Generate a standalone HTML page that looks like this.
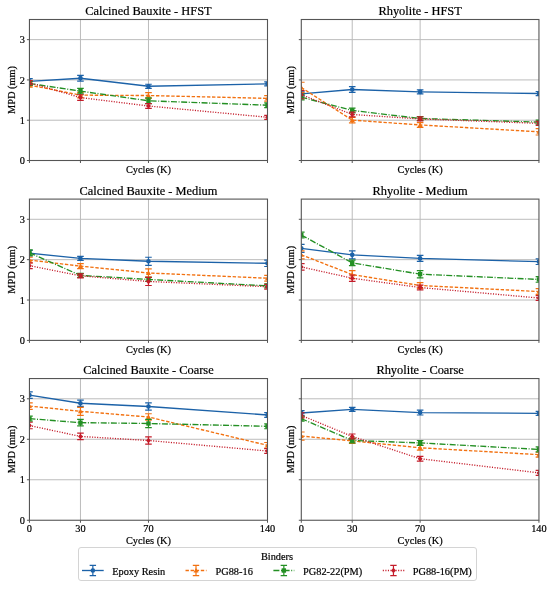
<!DOCTYPE html>
<html><head><meta charset="utf-8"><style>html,body{margin:0;padding:0;background:#fff;width:550px;height:589px;overflow:hidden} .t{font-family:"Liberation Serif",serif;fill:#000;stroke:#000;stroke-width:0.2px}</style></head>
<body>
<svg width="550" height="589" viewBox="0 0 550 589" style="display:block;will-change:transform">
<rect width="550" height="589" fill="#fff"/>
<defs><clipPath id="c0"><rect x="29.45" y="15.5" width="238.05" height="149.0"/></clipPath></defs>
<line x1="29.45" x2="267.5" y1="120.21" y2="120.21" stroke="#bcbcbc" stroke-width="1"/>
<line x1="29.45" x2="267.5" y1="79.93" y2="79.93" stroke="#bcbcbc" stroke-width="1"/>
<line x1="29.45" x2="267.5" y1="39.64" y2="39.64" stroke="#bcbcbc" stroke-width="1"/>
<line x1="80.46" x2="80.46" y1="19.5" y2="160.5" stroke="#bcbcbc" stroke-width="1"/>
<line x1="148.47" x2="148.47" y1="19.5" y2="160.5" stroke="#bcbcbc" stroke-width="1"/>
<g clip-path="url(#c0)">
<polyline points="29.45,81.44 80.46,78.22 148.47,86.27 267.50,83.86" fill="none" stroke="#1c62a8" stroke-width="1.35"/>
<path d="M29.45,78.62V84.26M26.15,78.62h6.6M26.15,84.26h6.6" stroke="#1c62a8" stroke-width="1.2" fill="none"/>
<circle cx="29.45" cy="81.44" r="2.35" fill="#1c62a8"/>
<path d="M80.46,75.40V81.04M77.16,75.40h6.6M77.16,81.04h6.6" stroke="#1c62a8" stroke-width="1.2" fill="none"/>
<circle cx="80.46" cy="78.22" r="2.35" fill="#1c62a8"/>
<path d="M148.47,84.26V88.29M145.17,84.26h6.6M145.17,88.29h6.6" stroke="#1c62a8" stroke-width="1.2" fill="none"/>
<circle cx="148.47" cy="86.27" r="2.35" fill="#1c62a8"/>
<path d="M267.50,81.84V85.87M264.20,81.84h6.6M264.20,85.87h6.6" stroke="#1c62a8" stroke-width="1.2" fill="none"/>
<circle cx="267.50" cy="83.86" r="2.35" fill="#1c62a8"/>
<polyline points="29.45,85.07 80.46,95.14 148.47,95.54 267.50,98.36" fill="none" stroke="#f27110" stroke-width="1.35" stroke-dasharray="3.4,1.7"/>
<path d="M29.45,83.05V87.08M26.15,83.05h6.6M26.15,87.08h6.6" stroke="#f27110" stroke-width="1.2" fill="none"/>
<polygon points="29.45,82.47 31.95,87.07 26.95,87.07" fill="#f27110"/>
<path d="M80.46,92.32V97.96M77.16,92.32h6.6M77.16,97.96h6.6" stroke="#f27110" stroke-width="1.2" fill="none"/>
<polygon points="80.46,92.54 82.96,97.14 77.96,97.14" fill="#f27110"/>
<path d="M148.47,92.72V98.36M145.17,92.72h6.6M145.17,98.36h6.6" stroke="#f27110" stroke-width="1.2" fill="none"/>
<polygon points="148.47,92.94 150.97,97.54 145.97,97.54" fill="#f27110"/>
<path d="M267.50,95.54V101.18M264.20,95.54h6.6M264.20,101.18h6.6" stroke="#f27110" stroke-width="1.2" fill="none"/>
<polygon points="267.50,95.76 270.00,100.36 265.00,100.36" fill="#f27110"/>
<polyline points="29.45,83.45 80.46,91.11 148.47,100.78 267.50,105.21" fill="none" stroke="#238f23" stroke-width="1.35" stroke-dasharray="6,1.6,1,1.6"/>
<path d="M29.45,81.44V85.47M26.15,81.44h6.6M26.15,85.47h6.6" stroke="#238f23" stroke-width="1.2" fill="none"/>
<rect x="27.25" y="81.25" width="4.40" height="4.40" fill="#238f23"/>
<path d="M80.46,88.29V93.93M77.16,88.29h6.6M77.16,93.93h6.6" stroke="#238f23" stroke-width="1.2" fill="none"/>
<rect x="78.26" y="88.91" width="4.40" height="4.40" fill="#238f23"/>
<path d="M148.47,97.96V103.60M145.17,97.96h6.6M145.17,103.60h6.6" stroke="#238f23" stroke-width="1.2" fill="none"/>
<rect x="146.28" y="98.58" width="4.40" height="4.40" fill="#238f23"/>
<path d="M267.50,102.79V107.62M264.20,102.79h6.6M264.20,107.62h6.6" stroke="#238f23" stroke-width="1.2" fill="none"/>
<rect x="265.30" y="103.01" width="4.40" height="4.40" fill="#238f23"/>
<polyline points="29.45,82.65 80.46,97.55 148.47,106.01 267.50,117.29" fill="none" stroke="#c41c2a" stroke-width="1.35" stroke-dasharray="1.1,1.45"/>
<path d="M29.45,80.63V84.66M26.15,80.63h6.6M26.15,84.66h6.6" stroke="#c41c2a" stroke-width="1.2" fill="none"/>
<polygon points="29.45,79.95 31.85,82.65 29.45,85.35 27.05,82.65" fill="#c41c2a"/>
<path d="M80.46,94.73V100.37M77.16,94.73h6.6M77.16,100.37h6.6" stroke="#c41c2a" stroke-width="1.2" fill="none"/>
<polygon points="80.46,94.85 82.86,97.55 80.46,100.25 78.06,97.55" fill="#c41c2a"/>
<path d="M148.47,103.60V108.43M145.17,103.60h6.6M145.17,108.43h6.6" stroke="#c41c2a" stroke-width="1.2" fill="none"/>
<polygon points="148.47,103.31 150.88,106.01 148.47,108.71 146.07,106.01" fill="#c41c2a"/>
<path d="M267.50,115.28V119.31M264.20,115.28h6.6M264.20,119.31h6.6" stroke="#c41c2a" stroke-width="1.2" fill="none"/>
<polygon points="267.50,114.59 269.90,117.29 267.50,119.99 265.10,117.29" fill="#c41c2a"/>
</g>
<rect x="29.45" y="19.5" width="238.05" height="141.0" fill="none" stroke="#555" stroke-width="1.1"/>
<line x1="26.95" x2="29.45" y1="160.50" y2="160.50" stroke="#555" stroke-width="1"/>
<line x1="26.95" x2="29.45" y1="120.21" y2="120.21" stroke="#555" stroke-width="1"/>
<line x1="26.95" x2="29.45" y1="79.93" y2="79.93" stroke="#555" stroke-width="1"/>
<line x1="26.95" x2="29.45" y1="39.64" y2="39.64" stroke="#555" stroke-width="1"/>
<line x1="29.45" x2="29.45" y1="160.5" y2="163.0" stroke="#555" stroke-width="1"/>
<line x1="80.46" x2="80.46" y1="160.5" y2="163.0" stroke="#555" stroke-width="1"/>
<line x1="148.47" x2="148.47" y1="160.5" y2="163.0" stroke="#555" stroke-width="1"/>
<line x1="267.50" x2="267.50" y1="160.5" y2="163.0" stroke="#555" stroke-width="1"/>
<text x="148.47" y="15.10" font-size="12.4" text-anchor="middle" class="t">Calcined Bauxite - HFST</text>
<text x="148.47" y="173.10" font-size="10.33" text-anchor="middle" class="t">Cycles (K)</text>
<text x="24.95" y="164.10" font-size="10.33" text-anchor="end" class="t">0</text>
<text x="24.95" y="123.81" font-size="10.33" text-anchor="end" class="t">1</text>
<text x="24.95" y="83.53" font-size="10.33" text-anchor="end" class="t">2</text>
<text x="24.95" y="43.24" font-size="10.33" text-anchor="end" class="t">3</text>
<text transform="translate(14.6,90.00) rotate(-90)" font-size="10.33" text-anchor="middle" class="t">MPD (mm)</text>
<defs><clipPath id="c1"><rect x="301.3" y="15.5" width="237.65000000000003" height="149.0"/></clipPath></defs>
<line x1="301.3" x2="538.95" y1="120.21" y2="120.21" stroke="#bcbcbc" stroke-width="1"/>
<line x1="301.3" x2="538.95" y1="79.93" y2="79.93" stroke="#bcbcbc" stroke-width="1"/>
<line x1="301.3" x2="538.95" y1="39.64" y2="39.64" stroke="#bcbcbc" stroke-width="1"/>
<line x1="352.23" x2="352.23" y1="19.5" y2="160.5" stroke="#bcbcbc" stroke-width="1"/>
<line x1="420.13" x2="420.13" y1="19.5" y2="160.5" stroke="#bcbcbc" stroke-width="1"/>
<g clip-path="url(#c1)">
<polyline points="301.30,93.93 352.23,89.50 420.13,91.91 538.95,93.53" fill="none" stroke="#1c62a8" stroke-width="1.35"/>
<path d="M301.30,91.91V95.94M298.00,91.91h6.6M298.00,95.94h6.6" stroke="#1c62a8" stroke-width="1.2" fill="none"/>
<circle cx="301.30" cy="93.93" r="2.35" fill="#1c62a8"/>
<path d="M352.23,86.68V92.32M348.93,86.68h6.6M348.93,92.32h6.6" stroke="#1c62a8" stroke-width="1.2" fill="none"/>
<circle cx="352.23" cy="89.50" r="2.35" fill="#1c62a8"/>
<path d="M420.13,89.90V93.93M416.83,89.90h6.6M416.83,93.93h6.6" stroke="#1c62a8" stroke-width="1.2" fill="none"/>
<circle cx="420.13" cy="91.91" r="2.35" fill="#1c62a8"/>
<path d="M538.95,91.51V95.54M535.65,91.51h6.6M535.65,95.54h6.6" stroke="#1c62a8" stroke-width="1.2" fill="none"/>
<circle cx="538.95" cy="93.53" r="2.35" fill="#1c62a8"/>
<polyline points="301.30,87.48 352.23,120.11 420.13,124.95 538.95,131.80" fill="none" stroke="#f27110" stroke-width="1.35" stroke-dasharray="3.4,1.7"/>
<path d="M301.30,82.25V92.72M298.00,82.25h6.6M298.00,92.72h6.6" stroke="#f27110" stroke-width="1.2" fill="none"/>
<polygon points="301.30,84.88 303.80,89.48 298.80,89.48" fill="#f27110"/>
<path d="M352.23,117.29V122.93M348.93,117.29h6.6M348.93,122.93h6.6" stroke="#f27110" stroke-width="1.2" fill="none"/>
<polygon points="352.23,117.51 354.73,122.11 349.73,122.11" fill="#f27110"/>
<path d="M420.13,122.53V127.37M416.83,122.53h6.6M416.83,127.37h6.6" stroke="#f27110" stroke-width="1.2" fill="none"/>
<polygon points="420.13,122.35 422.63,126.95 417.63,126.95" fill="#f27110"/>
<path d="M538.95,128.57V135.02M535.65,128.57h6.6M535.65,135.02h6.6" stroke="#f27110" stroke-width="1.2" fill="none"/>
<polygon points="538.95,129.20 541.45,133.80 536.45,133.80" fill="#f27110"/>
<polyline points="301.30,97.15 352.23,110.44 420.13,118.50 538.95,122.13" fill="none" stroke="#238f23" stroke-width="1.35" stroke-dasharray="6,1.6,1,1.6"/>
<path d="M301.30,94.33V99.97M298.00,94.33h6.6M298.00,99.97h6.6" stroke="#238f23" stroke-width="1.2" fill="none"/>
<rect x="299.10" y="94.95" width="4.40" height="4.40" fill="#238f23"/>
<path d="M352.23,108.03V112.86M348.93,108.03h6.6M348.93,112.86h6.6" stroke="#238f23" stroke-width="1.2" fill="none"/>
<rect x="350.03" y="108.24" width="4.40" height="4.40" fill="#238f23"/>
<path d="M420.13,116.49V120.52M416.83,116.49h6.6M416.83,120.52h6.6" stroke="#238f23" stroke-width="1.2" fill="none"/>
<rect x="417.93" y="116.30" width="4.40" height="4.40" fill="#238f23"/>
<path d="M538.95,120.11V124.14M535.65,120.11h6.6M535.65,124.14h6.6" stroke="#238f23" stroke-width="1.2" fill="none"/>
<rect x="536.75" y="119.93" width="4.40" height="4.40" fill="#238f23"/>
<polyline points="301.30,94.73 352.23,114.47 420.13,118.91 538.95,123.34" fill="none" stroke="#c41c2a" stroke-width="1.35" stroke-dasharray="1.1,1.45"/>
<path d="M301.30,90.70V98.76M298.00,90.70h6.6M298.00,98.76h6.6" stroke="#c41c2a" stroke-width="1.2" fill="none"/>
<polygon points="301.30,92.03 303.70,94.73 301.30,97.43 298.90,94.73" fill="#c41c2a"/>
<path d="M352.23,112.06V116.89M348.93,112.06h6.6M348.93,116.89h6.6" stroke="#c41c2a" stroke-width="1.2" fill="none"/>
<polygon points="352.23,111.77 354.62,114.47 352.23,117.17 349.83,114.47" fill="#c41c2a"/>
<path d="M420.13,116.89V120.92M416.83,116.89h6.6M416.83,120.92h6.6" stroke="#c41c2a" stroke-width="1.2" fill="none"/>
<polygon points="420.13,116.20 422.53,118.91 420.13,121.61 417.73,118.91" fill="#c41c2a"/>
<path d="M538.95,121.32V125.35M535.65,121.32h6.6M535.65,125.35h6.6" stroke="#c41c2a" stroke-width="1.2" fill="none"/>
<polygon points="538.95,120.64 541.35,123.34 538.95,126.04 536.55,123.34" fill="#c41c2a"/>
</g>
<rect x="301.3" y="19.5" width="237.65000000000003" height="141.0" fill="none" stroke="#555" stroke-width="1.1"/>
<line x1="298.8" x2="301.3" y1="160.50" y2="160.50" stroke="#555" stroke-width="1"/>
<line x1="298.8" x2="301.3" y1="120.21" y2="120.21" stroke="#555" stroke-width="1"/>
<line x1="298.8" x2="301.3" y1="79.93" y2="79.93" stroke="#555" stroke-width="1"/>
<line x1="298.8" x2="301.3" y1="39.64" y2="39.64" stroke="#555" stroke-width="1"/>
<line x1="301.30" x2="301.30" y1="160.5" y2="163.0" stroke="#555" stroke-width="1"/>
<line x1="352.23" x2="352.23" y1="160.5" y2="163.0" stroke="#555" stroke-width="1"/>
<line x1="420.13" x2="420.13" y1="160.5" y2="163.0" stroke="#555" stroke-width="1"/>
<line x1="538.95" x2="538.95" y1="160.5" y2="163.0" stroke="#555" stroke-width="1"/>
<text x="420.12" y="15.10" font-size="12.4" text-anchor="middle" class="t">Rhyolite - HFST</text>
<text x="420.12" y="173.10" font-size="10.33" text-anchor="middle" class="t">Cycles (K)</text>
<text transform="translate(293.85,90.00) rotate(-90)" font-size="10.33" text-anchor="middle" class="t">MPD (mm)</text>
<defs><clipPath id="c2"><rect x="29.45" y="195.1" width="238.05" height="149.29999999999998"/></clipPath></defs>
<line x1="29.45" x2="267.5" y1="300.03" y2="300.03" stroke="#bcbcbc" stroke-width="1"/>
<line x1="29.45" x2="267.5" y1="259.66" y2="259.66" stroke="#bcbcbc" stroke-width="1"/>
<line x1="29.45" x2="267.5" y1="219.29" y2="219.29" stroke="#bcbcbc" stroke-width="1"/>
<line x1="80.46" x2="80.46" y1="199.1" y2="340.4" stroke="#bcbcbc" stroke-width="1"/>
<line x1="148.47" x2="148.47" y1="199.1" y2="340.4" stroke="#bcbcbc" stroke-width="1"/>
<g clip-path="url(#c2)">
<polyline points="29.45,253.20 80.46,258.45 148.47,261.27 267.50,263.29" fill="none" stroke="#1c62a8" stroke-width="1.35"/>
<path d="M29.45,250.37V256.02M26.15,250.37h6.6M26.15,256.02h6.6" stroke="#1c62a8" stroke-width="1.2" fill="none"/>
<circle cx="29.45" cy="253.20" r="2.35" fill="#1c62a8"/>
<path d="M80.46,256.43V260.46M77.16,256.43h6.6M77.16,260.46h6.6" stroke="#1c62a8" stroke-width="1.2" fill="none"/>
<circle cx="80.46" cy="258.45" r="2.35" fill="#1c62a8"/>
<path d="M148.47,257.23V265.31M145.17,257.23h6.6M145.17,265.31h6.6" stroke="#1c62a8" stroke-width="1.2" fill="none"/>
<circle cx="148.47" cy="261.27" r="2.35" fill="#1c62a8"/>
<path d="M267.50,260.06V266.52M264.20,260.06h6.6M264.20,266.52h6.6" stroke="#1c62a8" stroke-width="1.2" fill="none"/>
<circle cx="267.50" cy="263.29" r="2.35" fill="#1c62a8"/>
<polyline points="29.45,260.06 80.46,266.12 148.47,272.98 267.50,278.23" fill="none" stroke="#f27110" stroke-width="1.35" stroke-dasharray="3.4,1.7"/>
<path d="M29.45,257.23V262.89M26.15,257.23h6.6M26.15,262.89h6.6" stroke="#f27110" stroke-width="1.2" fill="none"/>
<polygon points="29.45,257.46 31.95,262.06 26.95,262.06" fill="#f27110"/>
<path d="M80.46,263.69V268.54M77.16,263.69h6.6M77.16,268.54h6.6" stroke="#f27110" stroke-width="1.2" fill="none"/>
<polygon points="80.46,263.52 82.96,268.12 77.96,268.12" fill="#f27110"/>
<path d="M148.47,268.94V277.02M145.17,268.94h6.6M145.17,277.02h6.6" stroke="#f27110" stroke-width="1.2" fill="none"/>
<polygon points="148.47,270.38 150.97,274.98 145.97,274.98" fill="#f27110"/>
<path d="M267.50,275.40V281.05M264.20,275.40h6.6M264.20,281.05h6.6" stroke="#f27110" stroke-width="1.2" fill="none"/>
<polygon points="267.50,275.63 270.00,280.23 265.00,280.23" fill="#f27110"/>
<polyline points="29.45,252.79 80.46,275.40 148.47,279.44 267.50,285.90" fill="none" stroke="#238f23" stroke-width="1.35" stroke-dasharray="6,1.6,1,1.6"/>
<path d="M29.45,249.97V255.62M26.15,249.97h6.6M26.15,255.62h6.6" stroke="#238f23" stroke-width="1.2" fill="none"/>
<rect x="27.25" y="250.59" width="4.40" height="4.40" fill="#238f23"/>
<path d="M80.46,273.38V277.42M77.16,273.38h6.6M77.16,277.42h6.6" stroke="#238f23" stroke-width="1.2" fill="none"/>
<rect x="78.26" y="273.20" width="4.40" height="4.40" fill="#238f23"/>
<path d="M148.47,277.42V281.46M145.17,277.42h6.6M145.17,281.46h6.6" stroke="#238f23" stroke-width="1.2" fill="none"/>
<rect x="146.28" y="277.24" width="4.40" height="4.40" fill="#238f23"/>
<path d="M267.50,283.88V287.92M264.20,283.88h6.6M264.20,287.92h6.6" stroke="#238f23" stroke-width="1.2" fill="none"/>
<rect x="265.30" y="283.70" width="4.40" height="4.40" fill="#238f23"/>
<polyline points="29.45,265.71 80.46,275.81 148.47,281.46 267.50,286.71" fill="none" stroke="#c41c2a" stroke-width="1.35" stroke-dasharray="1.1,1.45"/>
<path d="M29.45,262.89V268.54M26.15,262.89h6.6M26.15,268.54h6.6" stroke="#c41c2a" stroke-width="1.2" fill="none"/>
<polygon points="29.45,263.01 31.85,265.71 29.45,268.41 27.05,265.71" fill="#c41c2a"/>
<path d="M80.46,273.79V277.82M77.16,273.79h6.6M77.16,277.82h6.6" stroke="#c41c2a" stroke-width="1.2" fill="none"/>
<polygon points="80.46,273.11 82.86,275.81 80.46,278.51 78.06,275.81" fill="#c41c2a"/>
<path d="M148.47,277.42V285.49M145.17,277.42h6.6M145.17,285.49h6.6" stroke="#c41c2a" stroke-width="1.2" fill="none"/>
<polygon points="148.47,278.76 150.88,281.46 148.47,284.16 146.07,281.46" fill="#c41c2a"/>
<path d="M267.50,284.28V289.13M264.20,284.28h6.6M264.20,289.13h6.6" stroke="#c41c2a" stroke-width="1.2" fill="none"/>
<polygon points="267.50,284.01 269.90,286.71 267.50,289.41 265.10,286.71" fill="#c41c2a"/>
</g>
<rect x="29.45" y="199.1" width="238.05" height="141.29999999999998" fill="none" stroke="#555" stroke-width="1.1"/>
<line x1="26.95" x2="29.45" y1="340.40" y2="340.40" stroke="#555" stroke-width="1"/>
<line x1="26.95" x2="29.45" y1="300.03" y2="300.03" stroke="#555" stroke-width="1"/>
<line x1="26.95" x2="29.45" y1="259.66" y2="259.66" stroke="#555" stroke-width="1"/>
<line x1="26.95" x2="29.45" y1="219.29" y2="219.29" stroke="#555" stroke-width="1"/>
<line x1="29.45" x2="29.45" y1="340.4" y2="342.9" stroke="#555" stroke-width="1"/>
<line x1="80.46" x2="80.46" y1="340.4" y2="342.9" stroke="#555" stroke-width="1"/>
<line x1="148.47" x2="148.47" y1="340.4" y2="342.9" stroke="#555" stroke-width="1"/>
<line x1="267.50" x2="267.50" y1="340.4" y2="342.9" stroke="#555" stroke-width="1"/>
<text x="148.47" y="194.70" font-size="12.4" text-anchor="middle" class="t">Calcined Bauxite - Medium</text>
<text x="148.47" y="353.00" font-size="10.33" text-anchor="middle" class="t">Cycles (K)</text>
<text x="24.95" y="344.00" font-size="10.33" text-anchor="end" class="t">0</text>
<text x="24.95" y="303.63" font-size="10.33" text-anchor="end" class="t">1</text>
<text x="24.95" y="263.26" font-size="10.33" text-anchor="end" class="t">2</text>
<text x="24.95" y="222.89" font-size="10.33" text-anchor="end" class="t">3</text>
<text transform="translate(14.6,269.75) rotate(-90)" font-size="10.33" text-anchor="middle" class="t">MPD (mm)</text>
<defs><clipPath id="c3"><rect x="301.3" y="195.1" width="237.65000000000003" height="149.29999999999998"/></clipPath></defs>
<line x1="301.3" x2="538.95" y1="300.03" y2="300.03" stroke="#bcbcbc" stroke-width="1"/>
<line x1="301.3" x2="538.95" y1="259.66" y2="259.66" stroke="#bcbcbc" stroke-width="1"/>
<line x1="301.3" x2="538.95" y1="219.29" y2="219.29" stroke="#bcbcbc" stroke-width="1"/>
<line x1="352.23" x2="352.23" y1="199.1" y2="340.4" stroke="#bcbcbc" stroke-width="1"/>
<line x1="420.13" x2="420.13" y1="199.1" y2="340.4" stroke="#bcbcbc" stroke-width="1"/>
<g clip-path="url(#c3)">
<polyline points="301.30,248.35 352.23,254.81 420.13,258.45 538.95,261.68" fill="none" stroke="#1c62a8" stroke-width="1.35"/>
<path d="M301.30,244.32V252.39M298.00,244.32h6.6M298.00,252.39h6.6" stroke="#1c62a8" stroke-width="1.2" fill="none"/>
<circle cx="301.30" cy="248.35" r="2.35" fill="#1c62a8"/>
<path d="M352.23,250.78V258.85M348.93,250.78h6.6M348.93,258.85h6.6" stroke="#1c62a8" stroke-width="1.2" fill="none"/>
<circle cx="352.23" cy="254.81" r="2.35" fill="#1c62a8"/>
<path d="M420.13,255.42V261.47M416.83,255.42h6.6M416.83,261.47h6.6" stroke="#1c62a8" stroke-width="1.2" fill="none"/>
<circle cx="420.13" cy="258.45" r="2.35" fill="#1c62a8"/>
<path d="M538.95,258.85V264.50M535.65,258.85h6.6M535.65,264.50h6.6" stroke="#1c62a8" stroke-width="1.2" fill="none"/>
<circle cx="538.95" cy="261.68" r="2.35" fill="#1c62a8"/>
<polyline points="301.30,254.81 352.23,274.59 420.13,285.49 538.95,291.55" fill="none" stroke="#f27110" stroke-width="1.35" stroke-dasharray="3.4,1.7"/>
<path d="M301.30,250.78V258.85M298.00,250.78h6.6M298.00,258.85h6.6" stroke="#f27110" stroke-width="1.2" fill="none"/>
<polygon points="301.30,252.21 303.80,256.81 298.80,256.81" fill="#f27110"/>
<path d="M352.23,270.56V278.63M348.93,270.56h6.6M348.93,278.63h6.6" stroke="#f27110" stroke-width="1.2" fill="none"/>
<polygon points="352.23,271.99 354.73,276.59 349.73,276.59" fill="#f27110"/>
<path d="M420.13,282.67V288.32M416.83,282.67h6.6M416.83,288.32h6.6" stroke="#f27110" stroke-width="1.2" fill="none"/>
<polygon points="420.13,282.89 422.63,287.49 417.63,287.49" fill="#f27110"/>
<path d="M538.95,288.72V294.38M535.65,288.72h6.6M535.65,294.38h6.6" stroke="#f27110" stroke-width="1.2" fill="none"/>
<polygon points="538.95,288.95 541.45,293.55 536.45,293.55" fill="#f27110"/>
<polyline points="301.30,235.03 352.23,262.89 420.13,274.19 538.95,279.44" fill="none" stroke="#238f23" stroke-width="1.35" stroke-dasharray="6,1.6,1,1.6"/>
<path d="M301.30,232.20V237.86M298.00,232.20h6.6M298.00,237.86h6.6" stroke="#238f23" stroke-width="1.2" fill="none"/>
<rect x="299.10" y="232.83" width="4.40" height="4.40" fill="#238f23"/>
<path d="M352.23,260.06V265.71M348.93,260.06h6.6M348.93,265.71h6.6" stroke="#238f23" stroke-width="1.2" fill="none"/>
<rect x="350.03" y="260.69" width="4.40" height="4.40" fill="#238f23"/>
<path d="M420.13,270.56V277.82M416.83,270.56h6.6M416.83,277.82h6.6" stroke="#238f23" stroke-width="1.2" fill="none"/>
<rect x="417.93" y="271.99" width="4.40" height="4.40" fill="#238f23"/>
<path d="M538.95,276.61V282.27M535.65,276.61h6.6M535.65,282.27h6.6" stroke="#238f23" stroke-width="1.2" fill="none"/>
<rect x="536.75" y="277.24" width="4.40" height="4.40" fill="#238f23"/>
<polyline points="301.30,266.92 352.23,278.23 420.13,287.51 538.95,298.01" fill="none" stroke="#c41c2a" stroke-width="1.35" stroke-dasharray="1.1,1.45"/>
<path d="M301.30,263.69V270.15M298.00,263.69h6.6M298.00,270.15h6.6" stroke="#c41c2a" stroke-width="1.2" fill="none"/>
<polygon points="301.30,264.22 303.70,266.92 301.30,269.62 298.90,266.92" fill="#c41c2a"/>
<path d="M352.23,275.00V281.46M348.93,275.00h6.6M348.93,281.46h6.6" stroke="#c41c2a" stroke-width="1.2" fill="none"/>
<polygon points="352.23,275.53 354.62,278.23 352.23,280.93 349.83,278.23" fill="#c41c2a"/>
<path d="M420.13,285.09V289.94M416.83,285.09h6.6M416.83,289.94h6.6" stroke="#c41c2a" stroke-width="1.2" fill="none"/>
<polygon points="420.13,284.81 422.53,287.51 420.13,290.21 417.73,287.51" fill="#c41c2a"/>
<path d="M538.95,295.59V300.43M535.65,295.59h6.6M535.65,300.43h6.6" stroke="#c41c2a" stroke-width="1.2" fill="none"/>
<polygon points="538.95,295.31 541.35,298.01 538.95,300.71 536.55,298.01" fill="#c41c2a"/>
</g>
<rect x="301.3" y="199.1" width="237.65000000000003" height="141.29999999999998" fill="none" stroke="#555" stroke-width="1.1"/>
<line x1="298.8" x2="301.3" y1="340.40" y2="340.40" stroke="#555" stroke-width="1"/>
<line x1="298.8" x2="301.3" y1="300.03" y2="300.03" stroke="#555" stroke-width="1"/>
<line x1="298.8" x2="301.3" y1="259.66" y2="259.66" stroke="#555" stroke-width="1"/>
<line x1="298.8" x2="301.3" y1="219.29" y2="219.29" stroke="#555" stroke-width="1"/>
<line x1="301.30" x2="301.30" y1="340.4" y2="342.9" stroke="#555" stroke-width="1"/>
<line x1="352.23" x2="352.23" y1="340.4" y2="342.9" stroke="#555" stroke-width="1"/>
<line x1="420.13" x2="420.13" y1="340.4" y2="342.9" stroke="#555" stroke-width="1"/>
<line x1="538.95" x2="538.95" y1="340.4" y2="342.9" stroke="#555" stroke-width="1"/>
<text x="420.12" y="194.70" font-size="12.4" text-anchor="middle" class="t">Rhyolite - Medium</text>
<text x="420.12" y="353.00" font-size="10.33" text-anchor="middle" class="t">Cycles (K)</text>
<text transform="translate(293.85,269.75) rotate(-90)" font-size="10.33" text-anchor="middle" class="t">MPD (mm)</text>
<defs><clipPath id="c4"><rect x="29.45" y="374.55" width="238.05" height="149.7"/></clipPath></defs>
<line x1="29.45" x2="267.5" y1="479.76" y2="479.76" stroke="#bcbcbc" stroke-width="1"/>
<line x1="29.45" x2="267.5" y1="439.28" y2="439.28" stroke="#bcbcbc" stroke-width="1"/>
<line x1="29.45" x2="267.5" y1="398.79" y2="398.79" stroke="#bcbcbc" stroke-width="1"/>
<line x1="80.46" x2="80.46" y1="378.55" y2="520.25" stroke="#bcbcbc" stroke-width="1"/>
<line x1="148.47" x2="148.47" y1="378.55" y2="520.25" stroke="#bcbcbc" stroke-width="1"/>
<g clip-path="url(#c4)">
<polyline points="29.45,395.15 80.46,403.25 148.47,406.49 267.50,414.99" fill="none" stroke="#1c62a8" stroke-width="1.35"/>
<path d="M29.45,391.91V398.39M26.15,391.91h6.6M26.15,398.39h6.6" stroke="#1c62a8" stroke-width="1.2" fill="none"/>
<circle cx="29.45" cy="395.15" r="2.35" fill="#1c62a8"/>
<path d="M80.46,400.21V406.28M77.16,400.21h6.6M77.16,406.28h6.6" stroke="#1c62a8" stroke-width="1.2" fill="none"/>
<circle cx="80.46" cy="403.25" r="2.35" fill="#1c62a8"/>
<path d="M148.47,402.84V410.13M145.17,402.84h6.6M145.17,410.13h6.6" stroke="#1c62a8" stroke-width="1.2" fill="none"/>
<circle cx="148.47" cy="406.49" r="2.35" fill="#1c62a8"/>
<path d="M267.50,412.56V417.42M264.20,412.56h6.6M264.20,417.42h6.6" stroke="#1c62a8" stroke-width="1.2" fill="none"/>
<circle cx="267.50" cy="414.99" r="2.35" fill="#1c62a8"/>
<polyline points="29.45,406.08 80.46,411.34 148.47,417.01 267.50,445.35" fill="none" stroke="#f27110" stroke-width="1.35" stroke-dasharray="3.4,1.7"/>
<path d="M29.45,402.84V409.32M26.15,402.84h6.6M26.15,409.32h6.6" stroke="#f27110" stroke-width="1.2" fill="none"/>
<polygon points="29.45,403.48 31.95,408.08 26.95,408.08" fill="#f27110"/>
<path d="M80.46,407.29V415.39M77.16,407.29h6.6M77.16,415.39h6.6" stroke="#f27110" stroke-width="1.2" fill="none"/>
<polygon points="80.46,408.74 82.96,413.34 77.96,413.34" fill="#f27110"/>
<path d="M148.47,413.77V420.25M145.17,413.77h6.6M145.17,420.25h6.6" stroke="#f27110" stroke-width="1.2" fill="none"/>
<polygon points="148.47,414.41 150.97,419.01 145.97,419.01" fill="#f27110"/>
<path d="M267.50,442.52V448.19M264.20,442.52h6.6M264.20,448.19h6.6" stroke="#f27110" stroke-width="1.2" fill="none"/>
<polygon points="267.50,442.75 270.00,447.35 265.00,447.35" fill="#f27110"/>
<polyline points="29.45,418.63 80.46,422.68 148.47,423.49 267.50,426.32" fill="none" stroke="#238f23" stroke-width="1.35" stroke-dasharray="6,1.6,1,1.6"/>
<path d="M29.45,416.20V421.06M26.15,416.20h6.6M26.15,421.06h6.6" stroke="#238f23" stroke-width="1.2" fill="none"/>
<rect x="27.25" y="416.43" width="4.40" height="4.40" fill="#238f23"/>
<path d="M80.46,419.44V425.92M77.16,419.44h6.6M77.16,425.92h6.6" stroke="#238f23" stroke-width="1.2" fill="none"/>
<rect x="78.26" y="420.48" width="4.40" height="4.40" fill="#238f23"/>
<path d="M148.47,419.44V427.54M145.17,419.44h6.6M145.17,427.54h6.6" stroke="#238f23" stroke-width="1.2" fill="none"/>
<rect x="146.28" y="421.29" width="4.40" height="4.40" fill="#238f23"/>
<path d="M267.50,423.89V428.75M264.20,423.89h6.6M264.20,428.75h6.6" stroke="#238f23" stroke-width="1.2" fill="none"/>
<rect x="265.30" y="424.12" width="4.40" height="4.40" fill="#238f23"/>
<polyline points="29.45,425.51 80.46,436.44 148.47,440.49 267.50,451.02" fill="none" stroke="#c41c2a" stroke-width="1.35" stroke-dasharray="1.1,1.45"/>
<path d="M29.45,422.27V428.75M26.15,422.27h6.6M26.15,428.75h6.6" stroke="#c41c2a" stroke-width="1.2" fill="none"/>
<polygon points="29.45,422.81 31.85,425.51 29.45,428.21 27.05,425.51" fill="#c41c2a"/>
<path d="M80.46,433.21V439.68M77.16,433.21h6.6M77.16,439.68h6.6" stroke="#c41c2a" stroke-width="1.2" fill="none"/>
<polygon points="80.46,433.74 82.86,436.44 80.46,439.14 78.06,436.44" fill="#c41c2a"/>
<path d="M148.47,436.85V444.14M145.17,436.85h6.6M145.17,444.14h6.6" stroke="#c41c2a" stroke-width="1.2" fill="none"/>
<polygon points="148.47,437.79 150.88,440.49 148.47,443.19 146.07,440.49" fill="#c41c2a"/>
<path d="M267.50,448.59V453.45M264.20,448.59h6.6M264.20,453.45h6.6" stroke="#c41c2a" stroke-width="1.2" fill="none"/>
<polygon points="267.50,448.32 269.90,451.02 267.50,453.72 265.10,451.02" fill="#c41c2a"/>
</g>
<rect x="29.45" y="378.55" width="238.05" height="141.7" fill="none" stroke="#555" stroke-width="1.1"/>
<line x1="26.95" x2="29.45" y1="520.25" y2="520.25" stroke="#555" stroke-width="1"/>
<line x1="26.95" x2="29.45" y1="479.76" y2="479.76" stroke="#555" stroke-width="1"/>
<line x1="26.95" x2="29.45" y1="439.28" y2="439.28" stroke="#555" stroke-width="1"/>
<line x1="26.95" x2="29.45" y1="398.79" y2="398.79" stroke="#555" stroke-width="1"/>
<line x1="29.45" x2="29.45" y1="520.25" y2="522.75" stroke="#555" stroke-width="1"/>
<line x1="80.46" x2="80.46" y1="520.25" y2="522.75" stroke="#555" stroke-width="1"/>
<line x1="148.47" x2="148.47" y1="520.25" y2="522.75" stroke="#555" stroke-width="1"/>
<line x1="267.50" x2="267.50" y1="520.25" y2="522.75" stroke="#555" stroke-width="1"/>
<text x="148.47" y="374.15" font-size="12.4" text-anchor="middle" class="t">Calcined Bauxite - Coarse</text>
<text x="29.45" y="532.25" font-size="10.33" text-anchor="middle" class="t">0</text>
<text x="80.46" y="532.25" font-size="10.33" text-anchor="middle" class="t">30</text>
<text x="148.47" y="532.25" font-size="10.33" text-anchor="middle" class="t">70</text>
<text x="267.50" y="532.25" font-size="10.33" text-anchor="middle" class="t">140</text>
<text x="148.47" y="543.85" font-size="10.33" text-anchor="middle" class="t">Cycles (K)</text>
<text x="24.95" y="523.85" font-size="10.33" text-anchor="end" class="t">0</text>
<text x="24.95" y="483.36" font-size="10.33" text-anchor="end" class="t">1</text>
<text x="24.95" y="442.88" font-size="10.33" text-anchor="end" class="t">2</text>
<text x="24.95" y="402.39" font-size="10.33" text-anchor="end" class="t">3</text>
<text transform="translate(14.6,449.40) rotate(-90)" font-size="10.33" text-anchor="middle" class="t">MPD (mm)</text>
<defs><clipPath id="c5"><rect x="301.3" y="374.55" width="237.65000000000003" height="149.7"/></clipPath></defs>
<line x1="301.3" x2="538.95" y1="479.76" y2="479.76" stroke="#bcbcbc" stroke-width="1"/>
<line x1="301.3" x2="538.95" y1="439.28" y2="439.28" stroke="#bcbcbc" stroke-width="1"/>
<line x1="301.3" x2="538.95" y1="398.79" y2="398.79" stroke="#bcbcbc" stroke-width="1"/>
<line x1="352.23" x2="352.23" y1="378.55" y2="520.25" stroke="#bcbcbc" stroke-width="1"/>
<line x1="420.13" x2="420.13" y1="378.55" y2="520.25" stroke="#bcbcbc" stroke-width="1"/>
<g clip-path="url(#c5)">
<polyline points="301.30,412.96 352.23,409.32 420.13,412.56 538.95,413.37" fill="none" stroke="#1c62a8" stroke-width="1.35"/>
<path d="M301.30,410.53V415.39M298.00,410.53h6.6M298.00,415.39h6.6" stroke="#1c62a8" stroke-width="1.2" fill="none"/>
<circle cx="301.30" cy="412.96" r="2.35" fill="#1c62a8"/>
<path d="M352.23,407.29V411.34M348.93,407.29h6.6M348.93,411.34h6.6" stroke="#1c62a8" stroke-width="1.2" fill="none"/>
<circle cx="352.23" cy="409.32" r="2.35" fill="#1c62a8"/>
<path d="M420.13,410.13V414.99M416.83,410.13h6.6M416.83,414.99h6.6" stroke="#1c62a8" stroke-width="1.2" fill="none"/>
<circle cx="420.13" cy="412.56" r="2.35" fill="#1c62a8"/>
<path d="M538.95,411.34V415.39M535.65,411.34h6.6M535.65,415.39h6.6" stroke="#1c62a8" stroke-width="1.2" fill="none"/>
<circle cx="538.95" cy="413.37" r="2.35" fill="#1c62a8"/>
<polyline points="301.30,436.04 352.23,440.90 420.13,447.78 538.95,454.66" fill="none" stroke="#f27110" stroke-width="1.35" stroke-dasharray="3.4,1.7"/>
<path d="M301.30,431.99V440.09M298.00,431.99h6.6M298.00,440.09h6.6" stroke="#f27110" stroke-width="1.2" fill="none"/>
<polygon points="301.30,433.44 303.80,438.04 298.80,438.04" fill="#f27110"/>
<path d="M352.23,438.47V443.33M348.93,438.47h6.6M348.93,443.33h6.6" stroke="#f27110" stroke-width="1.2" fill="none"/>
<polygon points="352.23,438.30 354.73,442.90 349.73,442.90" fill="#f27110"/>
<path d="M420.13,445.35V450.21M416.83,445.35h6.6M416.83,450.21h6.6" stroke="#f27110" stroke-width="1.2" fill="none"/>
<polygon points="420.13,445.18 422.63,449.78 417.63,449.78" fill="#f27110"/>
<path d="M538.95,452.23V457.09M535.65,452.23h6.6M535.65,457.09h6.6" stroke="#f27110" stroke-width="1.2" fill="none"/>
<polygon points="538.95,452.06 541.45,456.66 536.45,456.66" fill="#f27110"/>
<polyline points="301.30,418.63 352.23,440.49 420.13,442.92 538.95,449.40" fill="none" stroke="#238f23" stroke-width="1.35" stroke-dasharray="6,1.6,1,1.6"/>
<path d="M301.30,416.20V421.06M298.00,416.20h6.6M298.00,421.06h6.6" stroke="#238f23" stroke-width="1.2" fill="none"/>
<rect x="299.10" y="416.43" width="4.40" height="4.40" fill="#238f23"/>
<path d="M352.23,438.06V442.92M348.93,438.06h6.6M348.93,442.92h6.6" stroke="#238f23" stroke-width="1.2" fill="none"/>
<rect x="350.03" y="438.29" width="4.40" height="4.40" fill="#238f23"/>
<path d="M420.13,440.49V445.35M416.83,440.49h6.6M416.83,445.35h6.6" stroke="#238f23" stroke-width="1.2" fill="none"/>
<rect x="417.93" y="440.72" width="4.40" height="4.40" fill="#238f23"/>
<path d="M538.95,446.97V451.83M535.65,446.97h6.6M535.65,451.83h6.6" stroke="#238f23" stroke-width="1.2" fill="none"/>
<rect x="536.75" y="447.20" width="4.40" height="4.40" fill="#238f23"/>
<polyline points="301.30,415.39 352.23,436.44 420.13,458.71 538.95,472.88" fill="none" stroke="#c41c2a" stroke-width="1.35" stroke-dasharray="1.1,1.45"/>
<path d="M301.30,412.96V417.82M298.00,412.96h6.6M298.00,417.82h6.6" stroke="#c41c2a" stroke-width="1.2" fill="none"/>
<polygon points="301.30,412.69 303.70,415.39 301.30,418.09 298.90,415.39" fill="#c41c2a"/>
<path d="M352.23,434.02V438.87M348.93,434.02h6.6M348.93,438.87h6.6" stroke="#c41c2a" stroke-width="1.2" fill="none"/>
<polygon points="352.23,433.74 354.62,436.44 352.23,439.14 349.83,436.44" fill="#c41c2a"/>
<path d="M420.13,456.28V461.14M416.83,456.28h6.6M416.83,461.14h6.6" stroke="#c41c2a" stroke-width="1.2" fill="none"/>
<polygon points="420.13,456.01 422.53,458.71 420.13,461.41 417.73,458.71" fill="#c41c2a"/>
<path d="M538.95,470.45V475.31M535.65,470.45h6.6M535.65,475.31h6.6" stroke="#c41c2a" stroke-width="1.2" fill="none"/>
<polygon points="538.95,470.18 541.35,472.88 538.95,475.58 536.55,472.88" fill="#c41c2a"/>
</g>
<rect x="301.3" y="378.55" width="237.65000000000003" height="141.7" fill="none" stroke="#555" stroke-width="1.1"/>
<line x1="298.8" x2="301.3" y1="520.25" y2="520.25" stroke="#555" stroke-width="1"/>
<line x1="298.8" x2="301.3" y1="479.76" y2="479.76" stroke="#555" stroke-width="1"/>
<line x1="298.8" x2="301.3" y1="439.28" y2="439.28" stroke="#555" stroke-width="1"/>
<line x1="298.8" x2="301.3" y1="398.79" y2="398.79" stroke="#555" stroke-width="1"/>
<line x1="301.30" x2="301.30" y1="520.25" y2="522.75" stroke="#555" stroke-width="1"/>
<line x1="352.23" x2="352.23" y1="520.25" y2="522.75" stroke="#555" stroke-width="1"/>
<line x1="420.13" x2="420.13" y1="520.25" y2="522.75" stroke="#555" stroke-width="1"/>
<line x1="538.95" x2="538.95" y1="520.25" y2="522.75" stroke="#555" stroke-width="1"/>
<text x="420.12" y="374.15" font-size="12.4" text-anchor="middle" class="t">Rhyolite - Coarse</text>
<text x="301.30" y="532.25" font-size="10.33" text-anchor="middle" class="t">0</text>
<text x="352.23" y="532.25" font-size="10.33" text-anchor="middle" class="t">30</text>
<text x="420.13" y="532.25" font-size="10.33" text-anchor="middle" class="t">70</text>
<text x="538.95" y="532.25" font-size="10.33" text-anchor="middle" class="t">140</text>
<text x="420.12" y="543.85" font-size="10.33" text-anchor="middle" class="t">Cycles (K)</text>
<text transform="translate(293.85,449.40) rotate(-90)" font-size="10.33" text-anchor="middle" class="t">MPD (mm)</text>
<rect x="78.5" y="547.5" width="398" height="33" rx="2.5" fill="#fff" stroke="#d4d4d4" stroke-width="1"/>
<text x="277" y="560.3" font-size="10.33" text-anchor="middle" class="t">Binders</text>
<line x1="82" x2="103.7" y1="570.5" y2="570.5" stroke="#1c62a8" stroke-width="1.35"/>
<path d="M92.85,565.40V575.60M89.65,565.40h6.4M89.65,575.60h6.4" stroke="#1c62a8" stroke-width="1.2" fill="none"/>
<circle cx="92.85" cy="570.50" r="2.35" fill="#1c62a8"/>
<text x="112.2" y="574.5" font-size="10.33" class="t">Epoxy Resin</text>
<line x1="185.5" x2="206.5" y1="570.5" y2="570.5" stroke="#f27110" stroke-width="1.35" stroke-dasharray="3.4,1.7"/>
<path d="M196.00,565.40V575.60M192.80,565.40h6.4M192.80,575.60h6.4" stroke="#f27110" stroke-width="1.2" fill="none"/>
<polygon points="196.00,567.90 198.50,572.50 193.50,572.50" fill="#f27110"/>
<text x="215.5" y="574.5" font-size="10.33" class="t">PG88-16</text>
<line x1="273.4" x2="294.3" y1="570.5" y2="570.5" stroke="#238f23" stroke-width="1.35" stroke-dasharray="6,1.6,1,1.6"/>
<path d="M283.85,565.40V575.60M280.65,565.40h6.4M280.65,575.60h6.4" stroke="#238f23" stroke-width="1.2" fill="none"/>
<rect x="281.65" y="568.30" width="4.40" height="4.40" fill="#238f23"/>
<text x="303.1" y="574.5" font-size="10.33" class="t">PG82-22(PM)</text>
<line x1="382.8" x2="404.6" y1="570.5" y2="570.5" stroke="#c41c2a" stroke-width="1.35" stroke-dasharray="1.1,1.45"/>
<path d="M393.45,565.40V575.60M390.25,565.40h6.4M390.25,575.60h6.4" stroke="#c41c2a" stroke-width="1.2" fill="none"/>
<polygon points="393.45,567.80 395.85,570.50 393.45,573.20 391.05,570.50" fill="#c41c2a"/>
<text x="412.7" y="574.5" font-size="10.33" class="t">PG88-16(PM)</text>
</svg>
</body></html>
